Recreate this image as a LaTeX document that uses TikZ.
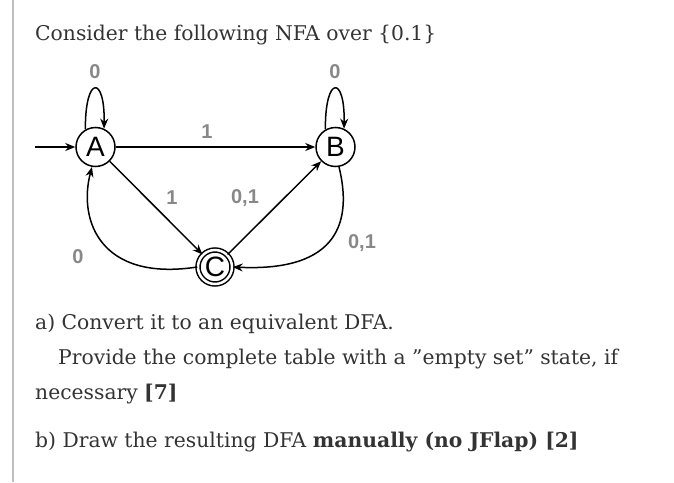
\documentclass[tikz,border=0pt]{standalone}
\usepackage{fontspec}
\setmainfont{DejaVu Serif}
\newfontfamily\lbl{Liberation Sans}
\usetikzlibrary{arrows.meta}
\definecolor{txt}{HTML}{333333}
\definecolor{lb}{HTML}{888888}
\begin{document}
\begin{tikzpicture}[x=1pt,y=-1pt,
  st/.style={draw,circle,minimum size=39pt,inner sep=0pt,line width=1.5pt,font=\lbl\fontsize{28}{28}\selectfont},
  edge/.style={line width=1.5pt,-{Stealth[length=10pt,width=8pt]}},
  el/.style={text=lb,font=\lbl\bfseries\fontsize{20}{20}\selectfont},
  para/.style={anchor=base west,text=txt,inner sep=0pt,font=\fontsize{20.3}{20.3}\selectfont}]
\useasboundingbox (0,0) rectangle (674,482);
\draw[gray!50,line width=1.5pt] (13,0) -- (13,482);
\node[para] (t1) at (35,40) {Consider the following NFA over \{0.1\}};
\node[st] (A) at (95.5,147) {A};
\node[st] (B) at (335.5,147) {B};
\node[st,double,double distance=2.5pt,minimum size=34pt] (C) at (215,267) {C};
\coordinate (s) at (35,147);
\draw[edge] (s) -- (A);
\draw[edge] (A.120) .. controls (85,75) and (105,75) .. (A.65);
\draw[edge] (B.120) .. controls (325,75) and (345,75) .. (B.65);
\draw[edge] (A) -- (B);
\draw[edge] (A) -- (C);
\draw[edge] (C) -- (B);
\draw[edge] (C.west) .. controls (100,282) and (78,220) .. (A.260);
\draw[edge] (B.280) .. controls (352,220) and (340,272) .. (C.east);
\node[el] (l1) at (95,72) {0};
\node[el] (l2) at (335,72) {0};
\node[el] (l3) at (207,132) {1};
\node[el] (l4) at (172,198) {1};
\node[el] (l5) at (245,198) {0,1};
\node[el] (l6) at (78,257) {0};
\node[el] (l7) at (362,243) {0,1};
\node[para] (t2) at (35,329) {a) Convert it to an equivalent DFA.};
\node[para] (t3) at (58,364) {Provide the complete table with a \symbol{34}empty set\symbol{34} state, if};
\node[para] (t4) at (35,399) {necessary \textbf{[7]}};
\node[para] (t5) at (35,447) {b) Draw the resulting DFA \textbf{manually (no JFlap) [2]}};
\end{tikzpicture}
\end{document}
